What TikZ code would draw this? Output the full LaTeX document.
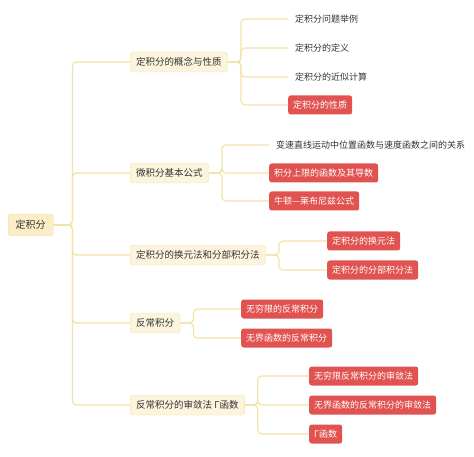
\documentclass[tikz,border=0pt]{standalone}
\usepackage{fontspec}
\newfontfamily\cjk{Noto Sans CJK SC}
\definecolor{linec}{HTML}{F1E4A8}
\definecolor{lonefill}{HTML}{FCF4DD}
\definecolor{lonedraw}{HTML}{EFE0AE}
\definecolor{rootfill}{HTML}{FBEDC6}
\definecolor{redbox}{HTML}{E05350}
\definecolor{txt}{HTML}{333333}
\begin{document}
\begin{tikzpicture}[x=1pt,y=-1pt,
  base/.style={font=\cjk\fontsize{9}{10}\selectfont, text=txt, anchor=west, inner ysep=0pt},
  rootbox/.style={base, font=\cjk\fontsize{10}{11}\selectfont, fill=rootfill, draw=lonedraw, rounded corners=3pt, inner xsep=7.5pt, minimum height=22pt},
  lonebox/.style={base, font=\cjk\fontsize{9.5}{10.5}\selectfont, fill=lonefill, draw=lonedraw, rounded corners=3pt, inner xsep=6pt, minimum height=20pt},
  redleaf/.style={base, fill=redbox, text=white, rounded corners=2.5pt, inner xsep=5pt, minimum height=19pt},
  plainleaf/.style={base, inner xsep=7pt, minimum height=19pt},
  conn/.style={draw=linec, line width=1.2pt, rounded corners=4pt}
]
\useasboundingbox (0,0) rectangle (474,457);

\node[rootbox] (root) at (8,225) {定积分};

\node[lonebox] (a) at (130,62) {定积分的概念与性质};
\node[lonebox] (b) at (130,173) {微积分基本公式};
\node[lonebox] (c) at (130,255) {定积分的换元法和分部积分法};
\node[lonebox] (d) at (130,323) {反常积分};
\node[lonebox] (e) at (130,405) {反常积分的审敛法 Γ函数};

\node[plainleaf] (a1) at (288,19) {定积分问题举例};
\node[plainleaf] (a2) at (288,48) {定积分的定义};
\node[plainleaf] (a3) at (288,77) {定积分的近似计算};
\node[redleaf] (a4) at (288,105) {定积分的性质};

\node[plainleaf] (b1) at (269,145) {变速直线运动中位置函数与速度函数之间的关系};
\node[redleaf] (b2) at (269,173) {积分上限的函数及其导数};
\node[redleaf] (b3) at (269,201) {牛顿—莱布尼兹公式};

\node[redleaf] (c1) at (327,241) {定积分的换元法};
\node[redleaf] (c2) at (327,270) {定积分的分部积分法};

\node[redleaf] (d1) at (241,309) {无穷限的反常积分};
\node[redleaf] (d2) at (241,338) {无界函数的反常积分};

\node[redleaf] (e1) at (309,376) {无穷限反常积分的审敛法};
\node[redleaf] (e2) at (309,405) {无界函数的反常积分的审敛法};
\node[redleaf] (e3) at (309,434) {Γ函数};

\foreach \k in {a,b,c,d,e}
  \draw[conn] (root.east) -- ([xshift=19pt]root.east) |- (\k.west);
\foreach \k in {a1,a2,a3,a4}
  \draw[conn] (a.east) -- ([xshift=13pt]a.east) |- (\k.west);
\foreach \k in {b1,b2,b3}
  \draw[conn] (b.east) -- ([xshift=13pt]b.east) |- (\k.west);
\foreach \k in {c1,c2}
  \draw[conn] (c.east) -- ([xshift=13pt]c.east) |- (\k.west);
\foreach \k in {d1,d2}
  \draw[conn] (d.east) -- ([xshift=13pt]d.east) |- (\k.west);
\foreach \k in {e1,e2,e3}
  \draw[conn] (e.east) -- ([xshift=13pt]e.east) |- (\k.west);
\end{tikzpicture}
\end{document}
